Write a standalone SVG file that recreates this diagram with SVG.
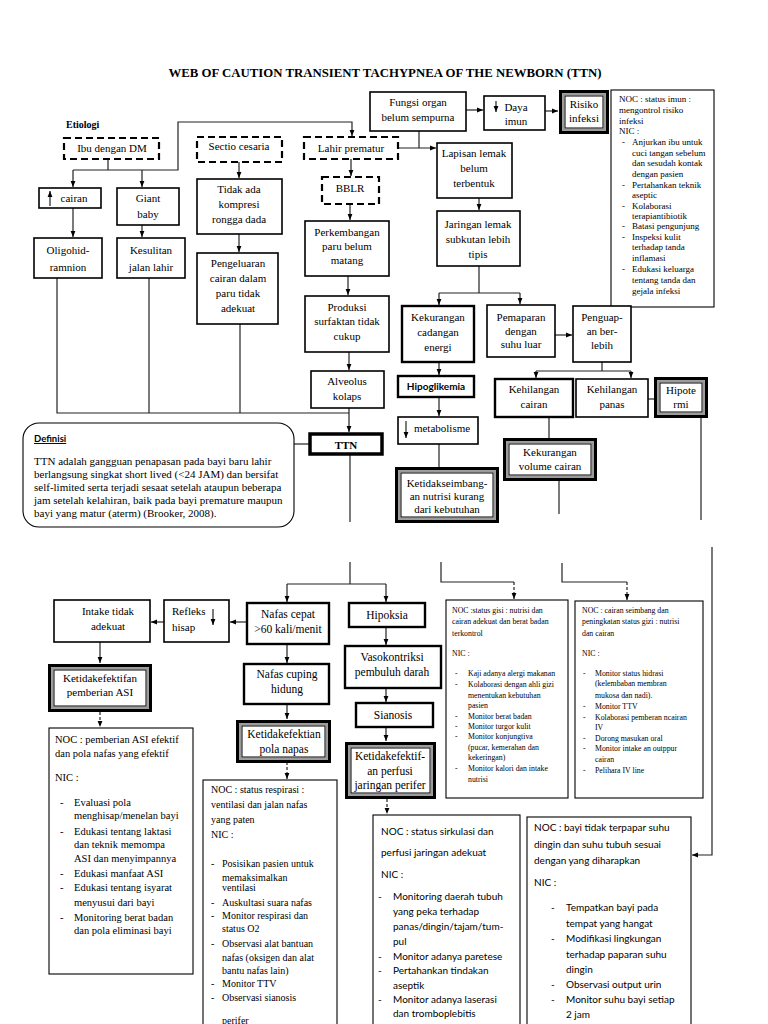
<svg xmlns="http://www.w3.org/2000/svg" width="768" height="1024" viewBox="0 0 768 1024">
<style>
.b{fill:#fff;stroke:#000;stroke-width:1.6}
.bk{fill:#fff;stroke:#000;stroke-width:2.4}
.d{fill:#fff;stroke:#000;stroke-width:2.2;stroke-dasharray:7 4}
.n{fill:#fff;stroke:#000;stroke-width:1.1}
.t1{fill:#fff;stroke:#000;stroke-width:3}
.t2{fill:none;stroke:#9a9a9a;stroke-width:2.4}
.t3{fill:none;stroke:#000;stroke-width:1}
.c{fill:none;stroke:#222;stroke-width:1.2}
.cd{fill:none;stroke:#222;stroke-width:1.2;stroke-dasharray:3 2}
text{font-family:"Liberation Serif","Times New Roman",serif;fill:#000}
.m{font-size:11px;text-anchor:middle}
.ml{font-size:11.5px;text-anchor:middle}
.s9{font-size:9px}
.s8{font-size:7.8px}
.s10{font-size:10px}
.s105{font-size:10.5px}
.cal{font-family:Lato,"Liberation Sans",sans-serif;font-size:10px}
</style>
<defs>
<marker id="ah" viewBox="0 0 10 10" refX="10" refY="5" markerWidth="6" markerHeight="6" markerUnits="userSpaceOnUse" orient="auto"><path d="M0,1 L10,5 L0,9 z" fill="#000"/></marker>
</defs>

<text x="385" y="77" style="font-size:12.8px;font-weight:bold;text-anchor:middle">WEB OF CAUTION TRANSIENT TACHYPNEA OF THE NEWBORN (TTN)</text>
<text x="66" y="128" style="font-size:10px;font-weight:bold">Etiologi</text>

<g id="connectors">
<path class="c" d="M108,159 V170"/>
<path class="c" d="M73,170 H178 V122 H352 V136" marker-end="url(#ah)"/>
<path class="c" d="M73,170 V187" marker-end="url(#ah)"/>
<path class="c" d="M142,170 V187" marker-end="url(#ah)"/>
<path class="c" d="M73,208 V237" marker-end="url(#ah)"/>
<path class="c" d="M142,225 V237" marker-end="url(#ah)"/>
<path class="c" d="M239,162 V178" marker-end="url(#ah)"/>
<path class="c" d="M239,234 V252" marker-end="url(#ah)"/>
<path class="c" d="M351,159 V176" marker-end="url(#ah)"/>
<path class="c" d="M350,204 V220" marker-end="url(#ah)"/>
<path class="c" d="M348,276 V295" marker-end="url(#ah)"/>
<path class="c" d="M349,352 V370" marker-end="url(#ah)"/>
<path class="c" d="M57,278 V413 H349"/>
<path class="c" d="M149,278 V413"/>
<path class="c" d="M240,324 V413"/>
<path class="c" d="M349,408 V432" marker-end="url(#ah)"/>
<path class="c" d="M294,444 H309"/>
<path class="c" d="M350,454 V522"/>
<path class="c" d="M466,110 H483" marker-end="url(#ah)"/>
<path class="c" d="M545,111 H558" marker-end="url(#ah)"/>
<path class="c" d="M419,131 V148"/>
<path class="c" d="M398,148 H436" marker-end="url(#ah)"/>
<path class="c" d="M479,198 V210" marker-end="url(#ah)"/>
<path class="c" d="M479,266 V293"/>
<path class="c" d="M439,293 H520"/>
<path class="c" d="M439,293 V305" marker-end="url(#ah)"/>
<path class="c" d="M520,293 V304" marker-end="url(#ah)"/>
<path class="c" d="M439,362 V375" marker-end="url(#ah)"/>
<path class="c" d="M439,397 V416" marker-end="url(#ah)"/>
<path class="c" d="M439,444 V467"/>
<path class="c" d="M555,335 H572" marker-end="url(#ah)"/>
<path class="c" d="M602,362 V371"/>
<path class="c" d="M536,371 H631"/>
<path class="c" d="M536,371 V378" marker-end="url(#ah)"/>
<path class="c" d="M631,371 V378" marker-end="url(#ah)"/>
<path class="c" d="M648,399 H654"/>
<path class="c" d="M549,417 V438"/>
<path class="c" d="M559,481 V514"/>
<path class="c" d="M701,418 V520"/>

<path class="c" d="M350,562 V584"/>
<path class="c" d="M287,584 H386"/>
<path class="c" d="M287,584 V602" marker-end="url(#ah)"/>
<path class="c" d="M386,584 V602" marker-end="url(#ah)"/>
<path class="c" d="M247,622 H230" marker-end="url(#ah)"/>
<path class="c" d="M164,622 H151" marker-end="url(#ah)"/>
<path class="c" d="M100,642 V663" marker-end="url(#ah)"/>
<path class="cd" d="M100,712 V727" marker-end="url(#ah)"/>
<path class="c" d="M287,644 V663" marker-end="url(#ah)"/>
<path class="c" d="M287,704 V719" marker-end="url(#ah)"/>
<path class="cd" d="M287,762 V779" marker-end="url(#ah)"/>
<path class="c" d="M386,627 V645" marker-end="url(#ah)"/>
<path class="c" d="M386,688 V702" marker-end="url(#ah)"/>
<path class="c" d="M386,727 V741" marker-end="url(#ah)"/>
<path class="cd" d="M387,799 V814" marker-end="url(#ah)"/>
<path class="c" d="M441,562 V582 H514"/>
<path class="cd" d="M514,582 V599" marker-end="url(#ah)"/>
<path class="c" d="M562,563 V582 H627"/>
<path class="cd" d="M627,582 V600" marker-end="url(#ah)"/>
<path class="c" d="M712,547 V855 H692" marker-end="url(#ah)"/>
</g>

<g id="n_ibu"><rect class="d" x="64" y="138" width="95" height="21"/><text class="m" x="112" y="152">Ibu dengan DM</text></g>
<g id="n_sectio"><rect class="d" x="197" y="137" width="85" height="25"/><text class="m" x="239" y="150">Sectio cesaria</text></g>
<g id="n_lahir"><rect class="d" x="304" y="137" width="94" height="22"/><text class="m" x="351" y="152">Lahir prematur</text></g>
<g id="n_bblr"><rect class="d" x="322" y="177" width="57" height="27"/><text class="m" x="350" y="192">BBLR</text></g>
<g id="n_cairan"><rect class="b" x="39" y="188" width="62" height="20"/><path class="c" d="M50,206 V191" marker-end="url(#ah)"/><text class="m" x="74" y="202">cairan</text></g>
<g id="n_giant"><rect class="b" x="117" y="188" width="62" height="37"/><text class="m" x="148" y="202">Giant</text><text class="m" x="148" y="218">baby</text></g>
<g id="n_oligo"><rect class="b" x="34" y="238" width="68" height="40"/><text class="m" x="68" y="254">Oligohid-</text><text class="m" x="68" y="271">ramnion</text></g>
<g id="n_kesulitan"><rect class="b" x="117" y="238" width="68" height="40"/><text class="m" x="151" y="254">Kesulitan</text><text class="m" x="151" y="271">jalan lahir</text></g>
<g id="n_tidak"><rect class="b" x="197" y="179" width="85" height="55"/><text class="m" x="239" y="193">Tidak ada</text><text class="m" x="239" y="208">kompresi</text><text class="m" x="239" y="223">rongga dada</text></g>
<g id="n_pengeluaran"><rect class="b" x="197" y="253" width="81" height="71"/><text class="m" x="238" y="267">Pengeluaran</text><text class="m" x="238" y="282">cairan dalam</text><text class="m" x="238" y="297">paru tidak</text><text class="m" x="238" y="312">adekuat</text></g>
<g id="n_fungsi"><rect class="b" x="370" y="92" width="96" height="39"/><text class="m" x="418" y="106">Fungsi organ</text><text class="m" x="418" y="121">belum sempurna</text></g>
<g id="n_daya"><rect class="b" x="484" y="96" width="61" height="34"/><path class="c" d="M496,101 V112" marker-end="url(#ah)"/><text class="m" x="516" y="111">Daya</text><text class="m" x="516" y="125">imun</text></g>
<g id="n_risiko"><rect class="t1" x="560.5" y="91.5" width="47" height="41"/><rect class="t2" x="563.25" y="94.25" width="41.5" height="35.5"/><rect class="t3" x="565" y="96" width="38" height="32"/><text class="m" x="584" y="108">Risiko</text><text class="m" x="584" y="122">infeksi</text></g>
<g id="n_nocimun"><rect class="n" x="611" y="90" width="103" height="217"/>
<text class="s9" x="619" y="102">NOC : status imun :</text>
<text class="s9" x="619" y="113">mengontrol risiko</text>
<text class="s9" x="619" y="124">infeksi</text>
<text class="s9" x="619" y="134">NIC :</text>
<text class="s9" x="622" y="145">-</text><text class="s9" x="632" y="145">Anjurkan ibu untuk</text>
<text class="s9" x="632" y="156">cuci tangan sebelum</text>
<text class="s9" x="632" y="166">dan sesudah kontak</text>
<text class="s9" x="632" y="177">dengan pasien</text>
<text class="s9" x="622" y="188">-</text><text class="s9" x="632" y="188">Pertahankan teknik</text>
<text class="s9" x="632" y="198">aseptic</text>
<text class="s9" x="622" y="209">-</text><text class="s9" x="632" y="209">Kolaborasi</text>
<text class="s9" x="632" y="219">terapiantibiotik</text>
<text class="s9" x="622" y="229">-</text><text class="s9" x="632" y="229">Batasi pengunjung</text>
<text class="s9" x="622" y="240">-</text><text class="s9" x="632" y="240">Inspeksi kulit</text>
<text class="s9" x="632" y="250">terhadap tanda</text>
<text class="s9" x="632" y="261">inflamasi</text>
<text class="s9" x="622" y="272">-</text><text class="s9" x="632" y="272">Edukasi keluarga</text>
<text class="s9" x="632" y="283">tentang tanda dan</text>
<text class="s9" x="632" y="294">gejala infeksi</text>
</g>
<g id="n_lapisan"><rect class="b" x="437" y="143" width="75" height="55"/><text class="m" x="474" y="157">Lapisan lemak</text><text class="m" x="474" y="172">belum</text><text class="m" x="474" y="187">terbentuk</text></g>
<g id="n_jaringan"><rect class="b" x="437" y="211" width="83" height="55"/><text class="m" x="478" y="228">Jaringan lemak</text><text class="m" x="478" y="243">subkutan lebih</text><text class="m" x="478" y="258">tipis</text></g>
<g id="n_perkembangan"><rect class="b" x="305" y="221" width="84" height="55"/><text class="m" x="347" y="236">Perkembangan</text><text class="m" x="347" y="250">paru belum</text><text class="m" x="347" y="264">matang</text></g>
<g id="n_produksi"><rect class="b" x="305" y="296" width="84" height="56"/><text class="m" x="347" y="311">Produksi</text><text class="m" x="347" y="325">surfaktan tidak</text><text class="m" x="347" y="340">cukup</text></g>
<g id="n_alveolus"><rect class="b" x="311" y="371" width="73" height="37"/><text class="m" x="347" y="385">Alveolus</text><text class="m" x="347" y="400">kolaps</text></g>
<g id="n_ttn"><rect fill="#fff" stroke="#000" stroke-width="3.5" x="310" y="434" width="72" height="20"/><text class="m" x="346" y="449" style="font-weight:bold">TTN</text></g>
<g id="n_definisi"><rect class="n" x="23" y="423" width="271" height="104" rx="16" stroke-width="1.3"/>
<text class="cal" x="34" y="442" style="font-weight:bold;font-size:9.5px;text-decoration:underline">Definisi</text>
<text class="m" x="34" y="465" style="text-anchor:start">TTN adalah gangguan penapasan pada bayi baru lahir</text>
<text class="m" x="34" y="478" style="text-anchor:start">berlangsung singkat short lived (&lt;24 JAM) dan bersifat</text>
<text class="m" x="34" y="491" style="text-anchor:start">self-limited serta terjadi sesaat setelah ataupun beberapa</text>
<text class="m" x="34" y="504" style="text-anchor:start">jam setelah kelahiran, baik pada bayi premature maupun</text>
<text class="m" x="34" y="517" style="text-anchor:start">bayi yang matur (aterm)  (Brooker, 2008).</text>
</g>
<g id="n_kekenergi"><rect class="bk" x="402" y="306" width="72" height="56"/><text class="m" x="438" y="321">Kekurangan</text><text class="m" x="438" y="336">cadangan</text><text class="m" x="438" y="351">energi</text></g>
<g id="n_hipogli"><rect class="bk" x="398" y="376" width="76" height="21"/><text class="cal" x="436" y="390" style="font-weight:bold;text-anchor:middle">Hipoglikemia</text></g>
<g id="n_metab"><rect class="b" x="398" y="417" width="80" height="27"/><path class="c" d="M406,421 V438" marker-end="url(#ah)"/><text class="m" x="442" y="432">metabolisme</text></g>
<g id="n_ketidakseimbangan"><rect class="t1" x="396.5" y="468.5" width="101" height="53"/><rect class="t2" x="399.25" y="471.25" width="95.5" height="47.5"/><rect class="t3" x="401" y="473" width="92" height="44"/><text class="m" x="447" y="487">Ketidakseimbang-</text><text class="m" x="447" y="500">an nutrisi kurang</text><text class="m" x="447" y="513">dari kebutuhan</text></g>
<g id="n_pemaparan"><rect class="b" x="487" y="305" width="68" height="52"/><text class="m" x="521" y="321">Pemaparan</text><text class="m" x="521" y="335">dengan</text><text class="m" x="521" y="348">suhu luar</text></g>
<g id="n_penguapan"><rect class="b" x="573" y="306" width="58" height="56"/><text class="m" x="602" y="321">Penguap-</text><text class="m" x="602" y="335">an ber-</text><text class="m" x="602" y="349">lebih</text></g>
<g id="n_kehcairan"><rect class="bk" x="495" y="379" width="78" height="38"/><text class="m" x="534" y="393">Kehilangan</text><text class="m" x="534" y="408">cairan</text></g>
<g id="n_kehpanas"><rect class="b" x="576" y="379" width="72" height="38"/><text class="m" x="612" y="393">Kehilangan</text><text class="m" x="612" y="408">panas</text></g>
<g id="n_hipotermi"><rect class="t1" x="655.5" y="378.5" width="51" height="38"/><rect class="t2" x="658.25" y="381.25" width="45.5" height="32.5"/><rect class="t3" x="660" y="383" width="42" height="29"/><text class="m" x="681" y="394">Hipote</text><text class="m" x="681" y="408">rmi</text></g>
<g id="n_kekvolume"><rect class="t1" x="504.5" y="439.5" width="91" height="40"/><rect class="t2" x="507.25" y="442.25" width="85.5" height="34.5"/><rect class="t3" x="509" y="444" width="82" height="31"/><text class="m" x="550" y="456">Kekurangan</text><text class="m" x="550" y="470">volume cairan</text></g>

<g id="n_intake"><rect class="b" x="54" y="600" width="96" height="42"/><text class="m" x="108" y="615">Intake tidak</text><text class="m" x="108" y="630">adekuat</text></g>
<g id="n_refleks"><rect class="b" x="164" y="600" width="65" height="42"/><text class="m" x="172" y="615" style="text-anchor:start">Refleks</text><text class="m" x="172" y="631" style="text-anchor:start">hisap</text><path class="c" d="M213,609 V625" marker-end="url(#ah)"/></g>
<g id="n_nafascepat"><rect class="bk" x="247" y="603" width="82" height="41"/><text class="ml" x="288" y="618">Nafas cepat</text><text class="ml" x="288" y="633">&gt;60 kali/menit</text></g>
<g id="n_cuping"><rect class="bk" x="244" y="664" width="85" height="40"/><text class="ml" x="287" y="678">Nafas cuping</text><text class="ml" x="287" y="693">hidung</text></g>
<g id="n_polanapas"><rect class="t1" x="237.5" y="721.5" width="92" height="40"/><rect class="t2" x="240.25" y="724.25" width="86.5" height="34.5"/><rect class="t3" x="242" y="726" width="83" height="31"/><text class="ml" x="284" y="738">Ketidakefektian</text><text class="ml" x="284" y="753">pola napas</text></g>
<g id="n_hipoksia"><rect class="bk" x="349" y="603" width="76" height="24"/><text class="ml" x="387" y="619">Hipoksia</text></g>
<g id="n_vaso"><rect class="bk" x="345" y="646" width="96" height="42"/><text class="ml" x="392" y="661">Vasokontriksi</text><text class="ml" x="392" y="676">pembuluh darah</text></g>
<g id="n_sianosis"><rect class="bk" x="356" y="703" width="77" height="24"/><text class="ml" x="393" y="719">Sianosis</text></g>
<g id="n_perfusi"><rect class="t1" x="346.5" y="743.5" width="88" height="54"/><rect class="t2" x="349.25" y="746.25" width="82.5" height="48.5"/><rect class="t3" x="351" y="748" width="79" height="45"/><text class="ml" x="390" y="760">Ketidakefektif-</text><text class="ml" x="390" y="775">an perfusi</text><text class="ml" x="390" y="789">jaringan perifer</text></g>
<g id="n_asi"><rect class="t1" x="49.5" y="665.5" width="101" height="45"/><rect class="t2" x="52.25" y="668.25" width="95.5" height="39.5"/><rect class="t3" x="54" y="670" width="92" height="36"/><text class="m" x="100" y="682">Ketidakefektifan</text><text class="m" x="100" y="696">pemberian ASI</text></g>

<g id="n_nocasi"><rect class="n" x="49" y="728" width="144" height="246"/>
<text class="s105" x="55" y="743">NOC : pemberian ASI efektif</text>
<text class="s105" x="55" y="757">dan pola nafas yang efektif</text>
<text class="s105" x="55" y="781">NIC :</text>
<text class="s105" x="60" y="806">-</text><text class="s105" x="74" y="806">Evaluasi pola</text>
<text class="s105" x="74" y="819">menghisap/menelan bayi</text>
<text class="s105" x="60" y="835">-</text><text class="s105" x="74" y="835">Edukasi tentang laktasi</text>
<text class="s105" x="74" y="848">dan teknik memompa</text>
<text class="s105" x="74" y="862">ASI dan menyimpannya</text>
<text class="s105" x="60" y="877">-</text><text class="s105" x="74" y="877">Edukasi manfaat ASI</text>
<text class="s105" x="60" y="891">-</text><text class="s105" x="74" y="891">Edukasi tentang isyarat</text>
<text class="s105" x="74" y="906">menyusui dari bayi</text>
<text class="s105" x="60" y="921">-</text><text class="s105" x="74" y="921">Monitoring berat badan</text>
<text class="s105" x="74" y="934">dan pola eliminasi bayi</text>
</g>
<g id="n_nocresp"><rect class="n" x="203" y="780" width="134" height="260"/>
<text class="s10" x="211" y="793">NOC : status respirasi :</text>
<text class="s10" x="211" y="808">ventilasi dan jalan nafas</text>
<text class="s10" x="211" y="823">yang paten</text>
<text class="s10" x="211" y="838">NIC :</text>
<text class="s10" x="211" y="867">-</text><text class="s10" x="222" y="867">Posisikan pasien untuk</text>
<text class="s10" x="222" y="881">memaksimalkan</text>
<text class="s10" x="222" y="891">ventilasi</text>
<text class="s10" x="211" y="906">-</text><text class="s10" x="222" y="906">Auskultasi suara nafas</text>
<text class="s10" x="211" y="919">-</text><text class="s10" x="222" y="919">Monitor respirasi dan</text>
<text class="s10" x="222" y="932">status O2</text>
<text class="s10" x="211" y="947">-</text><text class="s10" x="222" y="947">Observasi alat bantuan</text>
<text class="s10" x="222" y="961">nafas (oksigen dan alat</text>
<text class="s10" x="222" y="974">bantu nafas lain)</text>
<text class="s10" x="211" y="987">-</text><text class="s10" x="222" y="987">Monitor TTV</text>
<text class="s10" x="211" y="1001">-</text><text class="s10" x="222" y="1001">Observasi sianosis</text>
<text class="s10" x="222" y="1024">perifer</text>
</g>
<g id="n_nocgisi"><rect class="n" x="446" y="600" width="122" height="198"/>
<text class="s8" x="452" y="613">NOC :status gisi : nutrisi dan</text>
<text class="s8" x="452" y="624">cairan adekuat dan berat badan</text>
<text class="s8" x="452" y="636">terkontrol</text>
<text class="s8" x="452" y="656">NIC :</text>
<text class="s8" x="455" y="676">-</text><text class="s8" x="468" y="676">Kaji adanya alergi makanan</text>
<text class="s8" x="455" y="687">-</text><text class="s8" x="468" y="687">Kolaborasi dengan ahli gizi</text>
<text class="s8" x="468" y="698">menentukan kebutuhan</text>
<text class="s8" x="468" y="708">pasien</text>
<text class="s8" x="455" y="719">-</text><text class="s8" x="468" y="719">Monitor berat badan</text>
<text class="s8" x="455" y="729">-</text><text class="s8" x="468" y="729">Monitor turgor kulit</text>
<text class="s8" x="455" y="739">-</text><text class="s8" x="468" y="739">Monitor konjungtiva</text>
<text class="s8" x="468" y="750">(pucar, kemerahan dan</text>
<text class="s8" x="468" y="760">kekeringan)</text>
<text class="s8" x="455" y="771">-</text><text class="s8" x="468" y="771">Monitor kalori dan intake</text>
<text class="s8" x="468" y="782">nutrisi</text>
</g>
<g id="n_noccairan"><rect class="n" x="575" y="601" width="128" height="197"/>
<text class="s8" x="582" y="613">NOC : cairan seimbang dan</text>
<text class="s8" x="582" y="624">peningkatan status gizi : nutrisi</text>
<text class="s8" x="582" y="636">dan cairan</text>
<text class="s8" x="582" y="656">NIC :</text>
<text class="s8" x="583" y="676">-</text><text class="s8" x="595" y="676">Monitor status hidrasi</text>
<text class="s8" x="595" y="686">(kelembaban membran</text>
<text class="s8" x="595" y="698">mukosa dan nadi).</text>
<text class="s8" x="583" y="709">-</text><text class="s8" x="595" y="709">Monitor TTV</text>
<text class="s8" x="583" y="720">-</text><text class="s8" x="595" y="720">Kolaborasi pemberan ncairan</text>
<text class="s8" x="595" y="730">IV</text>
<text class="s8" x="583" y="741">-</text><text class="s8" x="595" y="741">Dorong masukan oral</text>
<text class="s8" x="583" y="751">-</text><text class="s8" x="595" y="751">Monitor intake an outppur</text>
<text class="s8" x="595" y="762">cairan</text>
<text class="s8" x="583" y="773">-</text><text class="s8" x="595" y="773">Pelihara IV line</text>
</g>
<g id="n_nocsirk"><rect class="n" x="373" y="815" width="147" height="225"/>
<text class="cal" x="381" y="835">NOC : status sirkulasi dan</text>
<text class="cal" x="381" y="856">perfusi jaringan adekuat</text>
<text class="cal" x="381" y="878">NIC :</text>
<text class="cal" x="378" y="900">-</text><text class="cal" x="393" y="900">Monitoring daerah tubuh</text>
<text class="cal" x="393" y="915">yang peka terhadap</text>
<text class="cal" x="393" y="930">panas/dingin/tajam/tum-</text>
<text class="cal" x="393" y="945">pul</text>
<text class="cal" x="378" y="960">-</text><text class="cal" x="393" y="960">Monitor adanya paretese</text>
<text class="cal" x="378" y="974">-</text><text class="cal" x="393" y="974">Pertahankan tindakan</text>
<text class="cal" x="393" y="989">aseptik</text>
<text class="cal" x="378" y="1003">-</text><text class="cal" x="393" y="1003">Monitor adanya laserasi</text>
<text class="cal" x="393" y="1017">dan tromboplebitis</text>
</g>
<g id="n_nocbayi"><rect class="n" x="527" y="817" width="164" height="223"/>
<text class="cal" x="534" y="831">NOC : bayi tidak terpapar suhu</text>
<text class="cal" x="534" y="848">dingin dan suhu tubuh sesuai</text>
<text class="cal" x="534" y="864">dengan yang diharapkan</text>
<text class="cal" x="534" y="886">NIC :</text>
<text class="cal" x="551" y="911">-</text><text class="cal" x="566" y="911">Tempatkan bayi pada</text>
<text class="cal" x="566" y="927">tempat yang hangat</text>
<text class="cal" x="551" y="942">-</text><text class="cal" x="566" y="942">Modifikasi lingkungan</text>
<text class="cal" x="566" y="958">terhadap paparan suhu</text>
<text class="cal" x="566" y="973">dingin</text>
<text class="cal" x="551" y="988">-</text><text class="cal" x="566" y="988">Observasi output urin</text>
<text class="cal" x="551" y="1003">-</text><text class="cal" x="566" y="1003">Monitor suhu bayi setiap</text>
<text class="cal" x="566" y="1018">2 jam</text>
</g>
</svg>
